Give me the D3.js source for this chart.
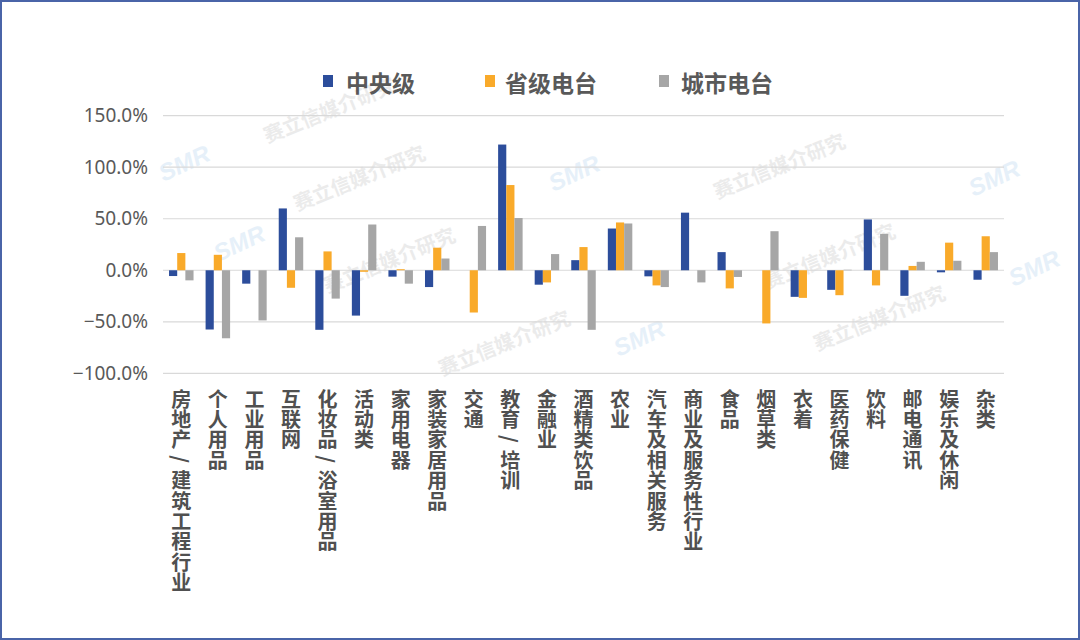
<!DOCTYPE html>
<html><head><meta charset="utf-8">
<script src="https://cdn.jsdelivr.net/npm/d3@7"></script>
<style>html,body{margin:0;padding:0;background:#fff;}svg{display:block;}</style>
</head><body>
<svg id="chart" width="1080" height="640"></svg>
<script>
const categories = ["房地产/建筑工程行业","个人用品","工业用品","互联网","化妆品/浴室用品","活动类","家用电器","家装家居用品","交通","教育/培训","金融业","酒精类饮品","农业","汽车及相关服务","商业及服务性行业","食品","烟草类","衣着","医药保健","饮料","邮电通讯","娱乐及休闲","杂类"];
const seriesNames = ["中央级","省级电台","城市电台"];
const central   = [-5.6,-57.5,-13,60,-57.8,-44,-6.2,-16.3,0,122,-14,9.8,40.5,-5.9,55.9,17.6,0,-25.8,-19,49.3,-24.8,-2,-9.2];
const provincial= [16.7,15,0,-17,18.3,-1.5,1,21.9,-41,82.7,-11.8,22.5,46.4,-14.7,0,-17.6,-51.6,-26.8,-24.2,-14.7,4.2,26.8,33];
const city      = [-9.8,-66,-48.7,32,-27.5,44.4,-13,11.4,43,50.7,15.7,-57.8,45.4,-16.3,-11.8,-6.5,37.9,0,0.5,35.3,8.2,9.2,17.6];
const yTicks = [-100,-50,0,50,100,150];
const colors = ["#2c4d9b","#f9aa2a","#a6a6a6"];

const svg = d3.select("#chart");
const W = 1080, H = 640;
svg.append("rect").attr("x",1).attr("y",1).attr("width",W-2).attr("height",H-2)
  .attr("fill","#fff").attr("stroke","#4a64a8").attr("stroke-width",2);

// faint watermarks
const wm = svg.append("g").attr("fill","#ebebeb").attr("font-family","Noto Sans CJK SC")
  .attr("font-size",20).attr("font-weight",700);
const wmPos = [[330,112],[780,168],[360,180],[390,262],[505,345],[830,258],[880,320]];
wmPos.forEach(p=>{
  wm.append("text").attr("transform",`translate(${p[0]},${p[1]}) rotate(-22)`)
    .attr("text-anchor","middle").attr("dominant-baseline","middle").text("赛立信媒介研究");
});
const logo = svg.append("g").attr("fill","#e6f0f9").attr("font-family","Liberation Sans")
  .attr("font-size",24).attr("font-weight",700).attr("font-style","italic");
[[185,165],[575,175],[240,245],[640,340],[995,180],[1035,270]].forEach(p=>{
  logo.append("text").attr("transform",`translate(${p[0]},${p[1]}) rotate(-25)`)
    .attr("text-anchor","middle").attr("dominant-baseline","middle").text("SMR");
});

const x0 = 163, x1 = 1004;
const x = d3.scaleBand().domain(categories).range([x0,x1]).paddingInner(0.33).paddingOuter(0.165);
const xs = d3.scaleBand().domain(seriesNames).range([0,x.bandwidth()]);
const y = d3.scaleLinear().domain([-100,150]).range([373.3,115.7]);

// gridlines
svg.append("g").selectAll("line").data(yTicks).join("line")
  .attr("x1",x0).attr("x2",x1).attr("y1",d=>y(d)).attr("y2",d=>y(d))
  .attr("stroke","#d9d9d9").attr("stroke-width",1.2);

// y axis labels
const yAxis = d3.axisLeft(y).tickValues(yTicks).tickSize(0).tickPadding(0)
  .tickFormat(d=>d3.format(".1f")(d)+"%");
const ya = svg.append("g").attr("transform","translate(148,0)").call(yAxis);
ya.select(".domain").remove();
ya.selectAll("text").attr("font-family","Noto Sans").attr("font-size",19)
  .attr("fill","#595959");

// bars
const data = [central, provincial, city];
data.forEach((vals,si)=>{
  svg.append("g").selectAll("rect").data(vals).join("rect")
    .attr("x",(d,i)=>x(categories[i])+xs(seriesNames[si]))
    .attr("width",xs.bandwidth())
    .attr("y",d=>y(Math.max(0,d)))
    .attr("height",d=>Math.abs(y(d)-y(0)))
    .attr("fill",colors[si]);
});

// category labels, vertical stacked characters
const lab = svg.append("g").attr("font-family","Noto Sans CJK SC").attr("font-size",20)
  .attr("font-weight",700).attr("fill","#505050");
categories.forEach(c=>{
  const cx = x(c)+x.bandwidth()/2;
  Array.from(c).forEach((ch,k)=>{
    const cy = 398 + k*20.4;
    const t = lab.append("text").attr("text-anchor","middle").attr("dominant-baseline","central")
      .attr("x",cx).attr("y",cy).text(ch);
    if(ch==="/") t.attr("transform",`rotate(90,${cx},${cy})`);
  });
});

// legend
const leg = svg.append("g");
const legX = [[323,346],[485,505],[659,681]];
seriesNames.forEach((s,i)=>{
  leg.append("rect").attr("x",legX[i][0]).attr("y",75).attr("width",10).attr("height",12).attr("fill",colors[i]);
  leg.append("text").attr("x",legX[i][1]).attr("y",82).attr("dominant-baseline","central")
    .attr("font-family","Noto Sans CJK SC").attr("font-size",23).attr("font-weight",700)
    .attr("fill","#595959").text(s);
});
</script>
</body></html>
